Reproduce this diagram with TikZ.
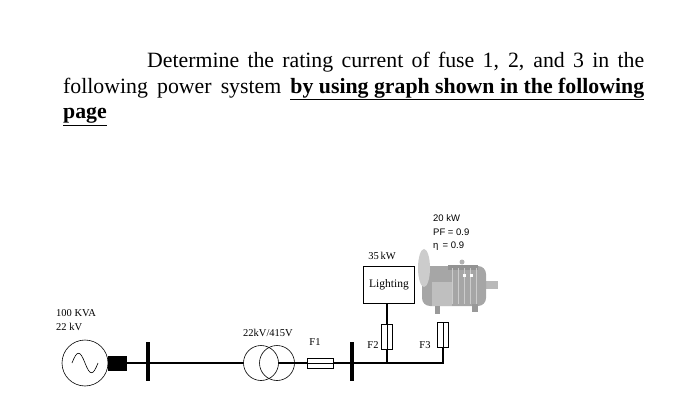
\documentclass[tikz,border=0pt]{standalone}
\usepackage{fontspec}
\setmainfont{Liberation Serif}
\newfontfamily\sansf{Liberation Sans}
\begin{document}
\begin{tikzpicture}[x=1pt,y=-1pt,
  wire/.style={line width=2.2pt},
  bar/.style={line width=3.8pt},
  fuse/.style={draw,fill=white,line width=0.6pt},
  lbl/.style={font=\fontsize{10.5}{11}\selectfont,inner sep=0pt}]
\useasboundingbox (0,0) rectangle (684,411);
% header text
\node[anchor=north west,inner sep=0pt,text width=581pt,align=justify,font=\fontsize{21.8}{25.5}\selectfont] (hdr) at (63,52)
 {\hspace*{84pt}Determine the rating current of fuse 1, 2, and 3 in the\linebreak following power system \textbf{\underline{by using graph shown in the following}}\linebreak\textbf{\underline{page}}};
% wires
\coordinate (j2) at (387,363);
\coordinate (j3) at (443,363);
\draw[wire] (108,363) -- (j3) -- (443,322);
\draw[wire] (j2) -- (387,304);
% generator
\node[draw,circle,minimum size=46pt,fill=white,line width=0.6pt] (gen) at (85,363) {};
\draw[line width=0.6pt] (72,363) .. controls (77,350) and (80,350) .. (85,363) .. controls (90,376) and (93,376) .. (98,363);
\node[fill=black,minimum width=19pt,minimum height=15pt,inner sep=0pt] (cb) at (117,363) {};
% bus bars
\draw[bar] (148,342) -- (148,381);
\draw[bar] (352,342) -- (352,381);
% transformer
\node[draw,circle,minimum size=35pt,fill=white,line width=0.6pt] (t1) at (261,363) {};
\node[draw,circle,minimum size=35pt,line width=0.6pt] (t2) at (277,363) {};
% fuses
\node[fuse,minimum width=26pt,minimum height=10pt,inner sep=0pt] (f1) at (320,363) {};
\draw[line width=0.6pt] (f1.west) -- (f1.east);
\node[fuse,minimum width=11pt,minimum height=25pt,inner sep=0pt] (f2) at (387,337) {};
\draw[line width=0.6pt] (f2.north) -- (f2.south);
\node[fuse,minimum width=11pt,minimum height=25pt,inner sep=0pt] (f3) at (443,335) {};
\draw[line width=0.6pt] (f3.north) -- (f3.south);
% lighting
\node[draw,line width=1.8pt,fill=white,minimum width=51pt,minimum height=37pt,font=\fontsize{11.5}{12}\selectfont] (light) at (389,285) {Lighting};
% motor
\begin{scope}
\fill[gray!55] (480,281) rectangle (498,289);
\fill[gray!70,rounded corners=8pt] (422,266) rectangle (486,306);
\fill[gray!40] (424,268) ellipse (6pt and 19pt);
\fill[gray!85] (448,265) rectangle (478,270);
\foreach \x in {452,458,464,470,476} \draw[gray!40,line width=0.8pt] (\x,268) -- (\x,304);
\fill[gray!50] (432,282) rectangle (452,306);
\fill[gray!80] (435,306) rectangle (440,314);
\fill[gray!80] (472,304) rectangle (478,312);
\fill[gray!60] (462,262) circle (2.5pt);
\fill[white] (463,274) rectangle (466,277);
\fill[white] (470,274) rectangle (473,277);
\end{scope}
% labels
\node[lbl,anchor=west] (lg1) at (56,313) {100 KVA};
\node[lbl,anchor=west] (lg2) at (56,327) {22 kV};
\node[lbl] (lt) at (268,333) {22kV/415V};
\node[lbl] (lf1) at (315,342) {F1};
\node[lbl] (lf2) at (373,345) {F2};
\node[lbl] (lf3) at (425,345) {F3};
\node[lbl] (l35) at (382,256) {35\,kW};
\node[lbl,anchor=west,font=\sansf\fontsize{9.5}{10}\selectfont] (m1) at (433,218) {20 kW};
\node[lbl,anchor=west,font=\sansf\fontsize{9.5}{10}\selectfont] (m2) at (433,232) {PF = 0.9};
\node[lbl,anchor=west,font=\sansf\fontsize{9.5}{10}\selectfont] (m3) at (433,246) {η\, = 0.9};
\end{tikzpicture}
\end{document}
